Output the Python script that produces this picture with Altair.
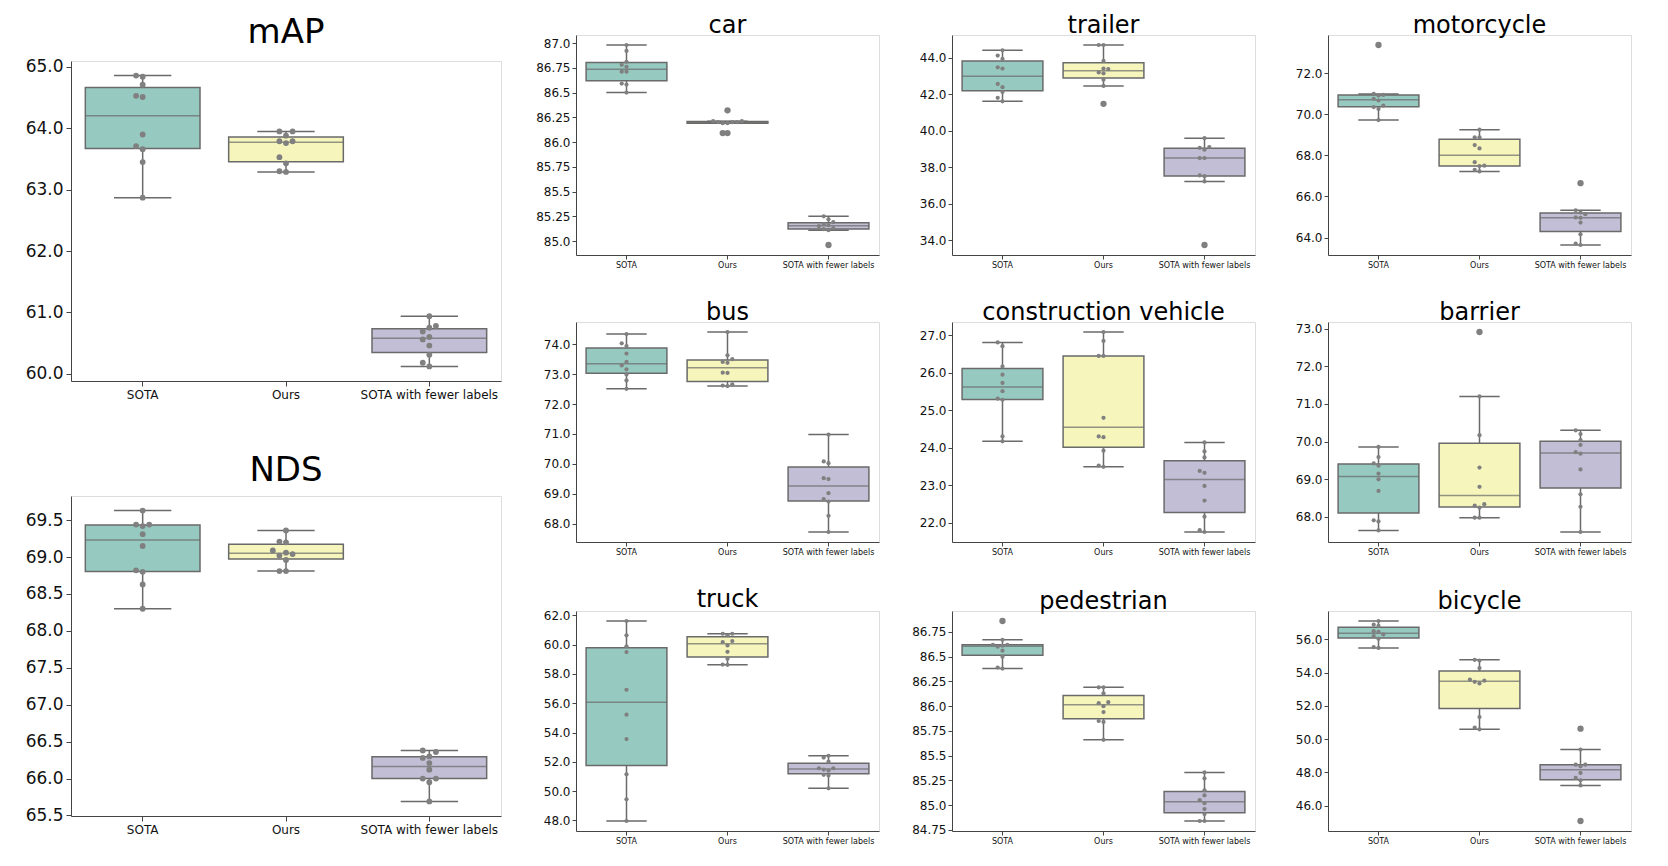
import altair as alt
import pandas as pd

GROUPS = ["SOTA", "Ours", "SOTA with fewer labels"]
COLORS = ["#96cac1", "#f6f6bc", "#c1bed6"]
LINE = "#6a6a6a"
POINT = "#808080"
FONT = "DejaVu Sans"

# ---- data (10 runs per method) ----
map_sota = [64.86, 64.84, 64.71, 64.53, 64.51, 63.90, 63.71, 63.66, 63.45, 62.87]
map_ours = [63.95, 63.95, 63.88, 63.79, 63.76, 63.79, 63.53, 63.43, 63.30, 63.29]
map_fewer = [60.94, 60.75, 60.78, 60.69, 60.60, 60.56, 60.46, 60.31, 60.18, 60.12]
map_ticks = [60.0, 61.0, 62.0, 63.0, 64.0, 65.0]

nds_sota = [69.63, 69.44, 69.42, 69.44, 69.31, 69.15, 68.82, 68.80, 68.63, 68.30]
nds_ours = [69.36, 69.21, 69.20, 69.09, 69.02, 69.04, 69.06, 68.96, 68.81, 68.81]
nds_fewer = [66.38, 66.36, 66.30, 66.28, 66.21, 66.12, 66.00, 66.00, 65.95, 65.69]
nds_ticks = [65.5, 66.0, 66.5, 67.0, 67.5, 68.0, 68.5, 69.0, 69.5]

car_sota = [86.98, 86.92, 86.81, 86.78, 86.76, 86.71, 86.71, 86.59, 86.58, 86.50]
car_ours = [86.32, 86.21, 86.20, 86.20, 86.19, 86.19, 86.20, 86.21, 86.09, 86.09]
car_fewer = [85.25, 85.22, 85.19, 85.17, 85.16, 85.13, 85.12, 85.11, 85.15, 84.96]
car_ticks = [85.0, 85.25, 85.5, 85.75, 86.0, 86.25, 86.5, 86.75, 87.0]

trailer_sota = [44.40, 44.11, 43.93, 43.47, 43.40, 42.56, 42.38, 42.12, 41.80, 41.61]
trailer_ours = [44.69, 44.69, 43.82, 43.40, 43.37, 43.19, 43.14, 42.79, 42.45, 41.47]
trailer_fewer = [39.59, 39.10, 39.06, 38.96, 38.50, 38.50, 37.55, 37.51, 37.22, 33.74]
trailer_ticks = [34.0, 36.0, 38.0, 40.0, 42.0, 44.0]

motorcycle_sota = [73.37, 70.99, 70.94, 70.91, 70.75, 70.67, 70.42, 70.35, 70.26, 69.72]
motorcycle_ours = [69.25, 68.88, 68.88, 68.50, 68.34, 67.67, 67.50, 67.48, 67.30, 67.22]
motorcycle_fewer = [66.65, 65.33, 65.22, 65.14, 64.98, 64.96, 64.73, 64.16, 63.71, 63.64]
motorcycle_ticks = [64.0, 66.0, 68.0, 70.0, 72.0]

bus_sota = [74.34, 74.03, 73.94, 73.69, 73.41, 73.29, 73.16, 72.99, 72.79, 72.51]
bus_ours = [74.41, 73.63, 73.50, 73.41, 73.38, 73.05, 73.04, 72.66, 72.62, 72.60]
bus_fewer = [70.98, 70.08, 70.02, 69.52, 69.49, 69.02, 68.82, 68.74, 68.26, 67.72]
bus_ticks = [68.0, 69.0, 70.0, 71.0, 72.0, 73.0, 74.0]

cv_sota = [26.81, 26.71, 26.17, 25.95, 25.73, 25.51, 25.31, 25.28, 24.30, 24.17]
cv_ours = [27.09, 26.85, 26.45, 26.45, 24.80, 24.30, 24.28, 23.92, 23.52, 23.49]
cv_fewer = [24.14, 23.90, 23.74, 23.38, 23.33, 22.98, 22.59, 22.16, 21.80, 21.75]
cv_ticks = [22.0, 23.0, 24.0, 25.0, 26.0, 27.0]

barrier_sota = [69.86, 69.59, 69.42, 69.36, 69.15, 69.00, 68.69, 67.91, 67.88, 67.64]
barrier_ours = [72.91, 71.20, 70.17, 69.31, 68.80, 68.34, 68.30, 68.25, 67.98, 67.98]
barrier_fewer = [70.30, 70.20, 70.04, 69.91, 69.72, 69.68, 69.26, 68.60, 68.27, 67.60]
barrier_ticks = [68.0, 69.0, 70.0, 71.0, 72.0, 73.0]

truck_sota = [61.61, 60.63, 59.88, 59.49, 56.91, 55.22, 53.55, 51.15, 49.44, 47.96]
truck_ours = [60.74, 60.74, 60.63, 60.24, 60.17, 59.94, 59.51, 59.03, 58.64, 58.62]
truck_fewer = [52.41, 52.29, 52.02, 51.56, 51.56, 51.47, 51.40, 51.11, 51.06, 50.19]
truck_ticks = [48.0, 50.0, 52.0, 54.0, 56.0, 58.0, 60.0, 62.0]

ped_sota = [86.86, 86.67, 86.62, 86.62, 86.61, 86.60, 86.56, 86.50, 86.39, 86.38]
ped_ours = [86.19, 86.19, 86.13, 86.04, 86.03, 86.00, 85.94, 85.85, 85.84, 85.66]
ped_fewer = [85.33, 85.27, 85.15, 85.10, 85.05, 85.02, 84.96, 84.91, 84.84, 84.84]
ped_ticks = [84.75, 85.0, 85.25, 85.5, 85.75, 86.0, 86.25, 86.5, 86.75]

bicycle_sota = [57.11, 56.89, 56.81, 56.50, 56.45, 56.30, 56.20, 56.04, 55.54, 55.49]
bicycle_ours = [54.77, 54.73, 54.28, 53.58, 53.52, 53.45, 53.35, 51.33, 50.69, 50.59]
bicycle_fewer = [50.63, 49.37, 48.46, 48.46, 48.36, 47.96, 47.66, 47.52, 47.21, 45.07]
bicycle_ticks = [46.0, 48.0, 50.0, 52.0, 54.0, 56.0]

LABEL_EXPR = "(datum.value*10) % 1 == 0 ? format(datum.value, '.1f') : format(datum.value, '.2f')"

BIG_W, BIG_H = 430, 320
SM_W, SM_H = 303, 220


def swarm_offsets(vals, lo, hi, height, d):
    """Beeswarm-style horizontal dodge (pixels) so dots do not overlap."""
    ys = [(v - lo) / (hi - lo) * height for v in vals]
    order = sorted(range(len(vals)), key=lambda i: ys[i])
    placed = []
    offs = [0.0] * len(vals)
    for i in order:
        x = 0.0
        for k in [0, -1, 1, -2, 2, -3, 3, -4, 4]:
            x = k * d
            ok = all((x - px) ** 2 + (ys[i] - py) ** 2 >= (0.95 * d) ** 2 for px, py in placed)
            if ok:
                break
        placed.append((x, ys[i]))
        offs[i] = x
    return offs


def panel(title, sota, ours, fewer, ticks, big):
    W, H = (BIG_W, BIG_H) if big else (SM_W, SM_H)
    pt_size = 34 if big else 18
    out_size = 60 if big else 40
    d = (pt_size * 4 / 3.14159) ** 0.5
    allv = sota + ours + fewer
    r = max(allv) - min(allv)
    lo, hi = min(allv) - 0.05 * r, max(allv) + 0.05 * r
    rows = []
    for g, vals in zip(GROUPS, [sota, ours, fewer]):
        offs = swarm_offsets(vals, lo, hi, H, d)
        for v, o in zip(vals, offs):
            # offset measured from the band start: centre of band + dodge
            rows.append({"group": g, "v": v, "off": W / 6 + o})
    df = pd.DataFrame(rows)

    x = alt.X(
        "group:N",
        sort=GROUPS,
        scale=alt.Scale(domain=GROUPS, paddingInner=0, paddingOuter=0),
        axis=alt.Axis(
            title=None, labelAngle=0, labelFontSize=12 if big else 8,
            labelFont=FONT, labelColor="#111", tickSize=5 if big else 4,
            labelPadding=3 if big else 2, tickColor="#444", domainColor="#444",
        ),
    )
    y = alt.Y(
        "v:Q",
        scale=alt.Scale(domain=[lo, hi], nice=False, zero=False),
        axis=alt.Axis(
            title=None, values=ticks, labelExpr=LABEL_EXPR, grid=False,
            labelFontSize=17 if big else 12, labelFont=FONT, labelColor="#111",
            tickSize=5 if big else 4, labelPadding=3 if big else 2,
            minExtent=57 if big else 42, tickColor="#444", domainColor="#444",
        ),
    )
    bw = W / 3 * 0.8
    base = alt.Chart(df)
    box = base.mark_boxplot(
        extent=1.5,
        size=bw,
        box={"stroke": LINE, "strokeWidth": 1.5, "opacity": 1},
        median={"color": LINE, "thickness": 1.5},
        rule={"color": LINE, "strokeWidth": 1.5},
        ticks={"color": LINE, "size": bw / 2, "thickness": 1.5},
        outliers=False,
    ).encode(
        x=x, y=y,
        color=alt.Color("group:N", scale=alt.Scale(domain=GROUPS, range=COLORS), legend=None),
    )
    fliers = base.transform_joinaggregate(
        q1="q1(v)", q3="q3(v)", groupby=["group"]
    ).transform_filter(
        "datum.v < datum.q1 - 1.5*(datum.q3 - datum.q1) || datum.v > datum.q3 + 1.5*(datum.q3 - datum.q1)"
    ).mark_circle(size=out_size, color=POINT, opacity=1).encode(
        x=x, y=y, xOffset=alt.XOffset("off:Q", scale=None)
    )
    pts = base.mark_circle(size=pt_size, color=POINT, opacity=1).encode(
        x=x, y=y, xOffset=alt.XOffset("off:Q", scale=None)
    )
    layered = alt.layer(box, fliers, pts).properties(width=W, height=H)
    if not big:
        layered = layered.properties(
            title=alt.Title(title, fontSize=24, font=FONT, fontWeight="normal",
                            color="black", offset=-3)
        )
    return layered


def big_title(text):
    # headline of a large panel, drawn as a text row above the plot
    df = pd.DataFrame({"t": [text]})
    return alt.Chart(df).mark_text(
        fontSize=34, font=FONT, color="black", align="center", baseline="middle"
    ).encode(
        text="t:N", x=alt.value(BIG_W / 2), y=alt.value(-2)
    ).properties(width=BIG_W, height=22, view=alt.ViewBackground(strokeOpacity=0))


left = alt.vconcat(
    alt.vconcat(big_title("mAP"),
                panel("mAP", map_sota, map_ours, map_fewer, map_ticks, True), spacing=0),
    alt.vconcat(big_title("NDS"),
                panel("NDS", nds_sota, nds_ours, nds_fewer, nds_ticks, True), spacing=0),
    spacing=53,
)

small = [
    panel("car", car_sota, car_ours, car_fewer, car_ticks, False),
    panel("trailer", trailer_sota, trailer_ours, trailer_fewer, trailer_ticks, False),
    panel("motorcycle", motorcycle_sota, motorcycle_ours, motorcycle_fewer, motorcycle_ticks, False),
    panel("bus", bus_sota, bus_ours, bus_fewer, bus_ticks, False),
    panel("construction vehicle", cv_sota, cv_ours, cv_fewer, cv_ticks, False),
    panel("barrier", barrier_sota, barrier_ours, barrier_fewer, barrier_ticks, False),
    panel("truck", truck_sota, truck_ours, truck_fewer, truck_ticks, False),
    panel("pedestrian", ped_sota, ped_ours, ped_fewer, ped_ticks, False),
    panel("bicycle", bicycle_sota, bicycle_ours, bicycle_fewer, bicycle_ticks, False),
]
right = alt.concat(*small, columns=3, spacing={"row": 30, "column": 29})

chart = alt.hconcat(left, right, spacing=31).configure_view(
    stroke="#444", strokeWidth=1
).configure(font=FONT, background="white")

chart.save("out.html", embed_options={"renderer": "svg", "actions": False})
